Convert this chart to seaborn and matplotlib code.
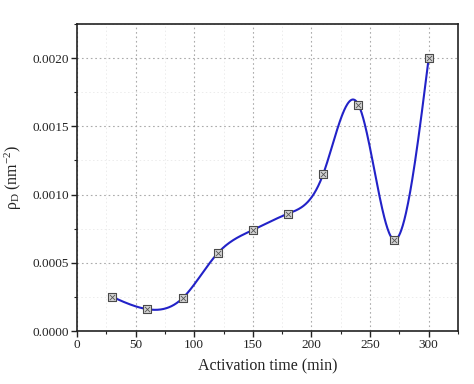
import numpy as np
import pandas as pd
import matplotlib
matplotlib.use("Agg")
import matplotlib.pyplot as plt
import seaborn as sns
from matplotlib.ticker import MultipleLocator

time_min = [30, 60, 90, 120, 150, 180, 210, 240, 270, 300]
rho_d = [0.00025, 0.00016, 0.00024, 0.00057, 0.00074, 0.00086, 0.00115, 0.00166, 0.00067, 0.00200]

x_ticks = [0, 50, 100, 150, 200, 250, 300]
y_ticks = [0.0000, 0.0005, 0.0010, 0.0015, 0.0020]
y_tick_labels = ["0.0000", "0.0005", "0.0010", "0.0015", "0.0020"]


def natural_spline(x, y, xs):
    x = np.asarray(x, float); y = np.asarray(y, float)
    n = len(x)
    h = np.diff(x)
    A = np.zeros((n, n)); b = np.zeros(n)
    A[0, 0] = 1; A[-1, -1] = 1
    for i in range(1, n - 1):
        A[i, i - 1] = h[i - 1]
        A[i, i] = 2 * (h[i - 1] + h[i])
        A[i, i + 1] = h[i]
        b[i] = 3 * ((y[i + 1] - y[i]) / h[i] - (y[i] - y[i - 1]) / h[i - 1])
    c = np.linalg.solve(A, b)
    out = np.empty_like(xs)
    for k, xv in enumerate(xs):
        i = min(max(np.searchsorted(x, xv) - 1, 0), n - 2)
        dx = xv - x[i]
        bi = (y[i + 1] - y[i]) / h[i] - h[i] * (2 * c[i] + c[i + 1]) / 3
        di = (c[i + 1] - c[i]) / (3 * h[i])
        out[k] = y[i] + bi * dx + c[i] * dx ** 2 + di * dx ** 3
    return out


sns.set_theme(style="white")
plt.rcParams["font.family"] = ["Liberation Serif", "DejaVu Serif"]
plt.rcParams["mathtext.fontset"] = "custom"
plt.rcParams["mathtext.rm"] = "Liberation Serif"
plt.rcParams["mathtext.it"] = "Liberation Serif:italic"

fig = plt.figure(figsize=(4.74, 3.84), dpi=100)
ax = fig.add_axes([77 / 474, 1 - 331 / 384, (458 - 77) / 474, (331 - 24) / 384])

df = pd.DataFrame({"t": time_min, "rho": rho_d})
xs = np.linspace(min(time_min), max(time_min), 600)
smooth = pd.DataFrame({"t": xs, "rho": natural_spline(time_min, rho_d, xs)})

ax.set_axisbelow(True)
ax.xaxis.set_minor_locator(MultipleLocator(25))
ax.yaxis.set_minor_locator(MultipleLocator(0.00025))
ax.grid(True, which="major", linestyle=(0, (1.5, 2.5)), color="#ababab", linewidth=0.8)
ax.grid(True, which="minor", linestyle=(0, (1.5, 2.5)), color="#ececec", linewidth=0.7)

sns.lineplot(data=smooth, x="t", y="rho", ax=ax, color="#2222c8", linewidth=1.5, sort=False)
sns.scatterplot(data=df, x="t", y="rho", ax=ax, marker="s", s=26, facecolor="#d4d4d4",
                edgecolor="#4a4a4a", linewidth=0.8, zorder=5)
sns.scatterplot(data=df, x="t", y="rho", ax=ax, marker="x", s=14, color="#555555",
                linewidth=0.6, zorder=6)

ax.set_xlim(0, 325)
ax.set_ylim(0, 0.00225)
ax.set_xticks(x_ticks)
ax.set_yticks(y_ticks)
ax.set_yticklabels(y_tick_labels)

for s in ax.spines.values():
    s.set_visible(True)
    s.set_color("#222222")
    s.set_linewidth(1.2)

ax.tick_params(axis="both", which="major", direction="out", length=4, width=1.0,
               color="#222222", labelsize=9.5, labelcolor="#222222", pad=2,
               bottom=True, left=True)
ax.tick_params(axis="both", which="minor", direction="out", length=2.5, width=0.8,
               color="#222222", bottom=True, left=True)

ax.set_xlabel("Activation time (min)", fontsize=11.5, color="#222222", labelpad=5)
ax.set_ylabel("ρ$_{\\mathrm{D}}$ (nm$^{\\mathrm{-2}}$)", fontsize=11.5, color="#222222", labelpad=6)

fig.savefig("out.png", dpi=100)
